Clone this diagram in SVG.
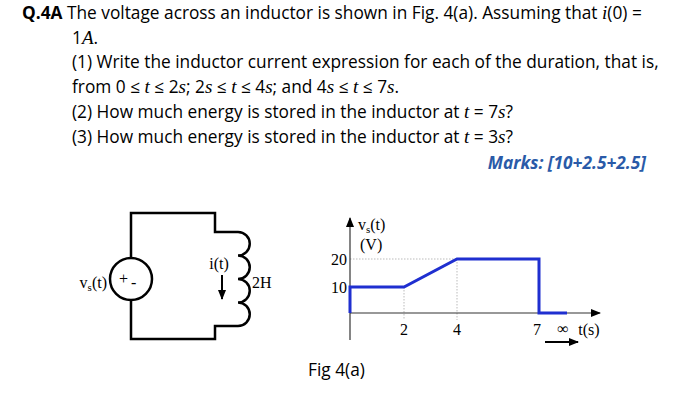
<svg xmlns="http://www.w3.org/2000/svg" width="700" height="407" viewBox="0 0 700 407">
<defs>
<style>
.t{font-family:"Open Sans","Liberation Sans",sans-serif;font-size:17.3px;fill:#000}
.m{font-family:"Liberation Serif",serif;font-style:italic;font-size:19px}
.s{font-family:"Liberation Serif",serif;font-size:16px;fill:#000}
.w{fill:none;stroke:#000;stroke-width:2.5}
.b{fill:none;stroke:#1f2fd0;stroke-width:3}
.g{stroke:#bbb;stroke-width:1;stroke-dasharray:1.5,1.5}
</style>
<marker id="ah" markerWidth="10" markerHeight="10" refX="9" refY="5" orient="auto" markerUnits="userSpaceOnUse"><path d="M0,1 L10,5 L0,9 Z" fill="#000"/></marker>
</defs>
<g id="question">
<text class="t" x="22" y="19"><tspan font-weight="bold">Q.4A</tspan> The voltage across an inductor is shown in Fig. 4(a). Assuming that <tspan class="m">i</tspan>(0) =</text>
<text class="t" x="72" y="44">1<tspan class="m">A</tspan>.</text>
<text class="t" x="72" y="68">(1) Write the inductor current expression for each of the duration, that is,</text>
<text class="t" x="72" y="93">from 0 ≤ <tspan class="m">t</tspan> ≤ 2<tspan class="m">s</tspan>;  2<tspan class="m">s</tspan> ≤ <tspan class="m">t</tspan> ≤ 4<tspan class="m">s</tspan>; and 4<tspan class="m">s</tspan> ≤ <tspan class="m">t</tspan> ≤ 7<tspan class="m">s</tspan>.</text>
<text class="t" x="72" y="118">(2) How much energy is stored in the inductor at <tspan class="m">t</tspan> = 7<tspan class="m">s</tspan>?</text>
<text class="t" x="72" y="143">(3) How much energy is stored in the inductor at <tspan class="m">t</tspan> = 3<tspan class="m">s</tspan>?</text>
<text class="t" x="646" y="169" text-anchor="end" font-weight="bold" font-style="italic" style="fill:#2a5aa8">Marks: [10+2.5+2.5]</text>
</g>
<g id="circuit">
<path class="w" d="M131,258 V213 H215 V232 H238 A11.7,11.7 0 0 1 238,255.5 A11.7,11.7 0 0 1 238,279 A11.7,11.7 0 0 1 238,302.5 A11.7,11.7 0 0 1 238,326 H215 V339 H131 V300"/>
<circle class="w" cx="131" cy="279" r="21"/>
<text class="s" x="119" y="284" font-size="15">+</text>
<text class="s" x="131" y="288" font-size="15">-</text>
<text class="s" x="107" y="288" text-anchor="end">v<tspan font-size="11" dy="3">s</tspan><tspan dy="-3">(t)</tspan></text>
<text class="s" x="219" y="269" text-anchor="middle">i(t)</text>
<line x1="222" y1="275" x2="222" y2="299" stroke="#000" stroke-width="2" marker-end="url(#ah)"/>
<text class="s" x="252" y="288">2H</text>
</g>
<g id="graph">
<line class="g" x1="350" y1="259" x2="539" y2="259"/>
<line class="g" x1="404" y1="287" x2="404" y2="320"/>
<line class="g" x1="457" y1="259" x2="457" y2="320"/>
<line x1="350" y1="340" x2="350" y2="218" stroke="#333" stroke-width="1.2" marker-end="url(#ah)"/>
<line x1="350" y1="313" x2="600" y2="313" stroke="#333" stroke-width="1.2" marker-end="url(#ah)"/>
<path class="b" d="M350,313 V287 H404 L457,259 H539 V313 H567"/>
<text class="s" x="358" y="230">v<tspan font-size="11" dy="3">s</tspan><tspan dy="-3">(t)</tspan></text>
<text class="s" x="360" y="250">(V)</text>
<text class="s" x="347" y="265" text-anchor="end">20</text>
<text class="s" x="347" y="293" text-anchor="end">10</text>
<text class="s" x="404" y="335" text-anchor="middle">2</text>
<text class="s" x="457" y="335" text-anchor="middle">4</text>
<text class="s" x="537" y="335" text-anchor="middle">7</text>
<text class="s" x="563" y="334" text-anchor="middle">∞</text>
<text class="s" x="589" y="335" text-anchor="middle">t(s)</text>
<line x1="545" y1="342" x2="578" y2="342" stroke="#000" stroke-width="2" marker-end="url(#ah)"/>
</g>
<text class="t" x="308" y="376" font-size="16">Fig 4(a)</text>
</svg>
